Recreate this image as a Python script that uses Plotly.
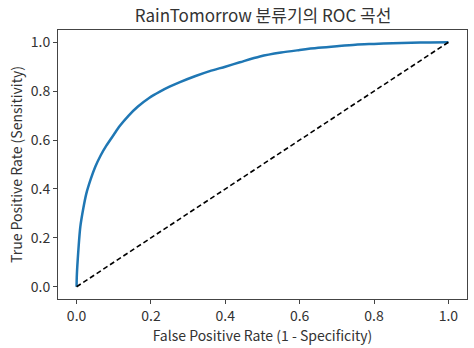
import plotly.graph_objects as go

fpr = [0, 0.0005, 0.003, 0.01, 0.018, 0.026, 0.038, 0.05, 0.065, 0.08, 0.1, 0.116,
       0.14, 0.165, 0.195, 0.224, 0.25, 0.278, 0.32, 0.358, 0.4, 0.439, 0.493, 0.55,
       0.6, 0.65, 0.7, 0.75, 0.8, 0.85, 0.9, 0.95, 1.0]
tpr = [0, 0.04, 0.11, 0.245, 0.32, 0.38, 0.44, 0.49, 0.538, 0.577, 0.622, 0.657,
       0.70, 0.737, 0.772, 0.798, 0.818, 0.837, 0.862, 0.882, 0.90, 0.918, 0.942, 0.958,
       0.968, 0.977, 0.984, 0.99, 0.993, 0.996, 0.998, 0.999, 1.0]
diag = [0, 1]
tick_vals = [0.0, 0.2, 0.4, 0.6, 0.8, 1.0]

title_text = "RainTomorrow 분류기의 ROC 곡선"
x_title = "False Positive Rate (1 - Specificity)"
y_title = "True Positive Rate (Sensitivity)"

FONT = "Noto Sans CJK KR"

fig = go.Figure()
fig.add_trace(go.Scatter(x=fpr, y=tpr, mode="lines",
                         line=dict(color="#1f77b4", width=2.5, shape="spline", smoothing=0.8),
                         showlegend=False, hoverinfo="skip"))
fig.add_trace(go.Scatter(x=diag, y=diag, mode="lines",
                         line=dict(color="black", width=1.6, dash="5px,3px"),
                         showlegend=False, hoverinfo="skip"))

axis_common = dict(
    range=[-0.05, 1.05], tickvals=tick_vals, tickformat=".1f",
    showgrid=False, zeroline=False, showline=True, mirror=True,
    linecolor="#444", linewidth=1, ticks="outside", ticklen=4,
    tickcolor="#444", tickfont=dict(family=FONT, size=14, color="#333"),
)

fig.update_layout(
    width=474, height=348,
    margin=dict(l=58, r=7, t=30, b=49),
    paper_bgcolor="white", plot_bgcolor="white",
    font=dict(family=FONT, color="#333"),
    title=dict(text=title_text, x=0.555, xanchor="center", y=0.955, yanchor="middle",
               font=dict(family=FONT, size=17, color="#333")),
    xaxis=dict(**axis_common, title=dict(text=x_title, standoff=2,
               font=dict(family=FONT, size=14, color="#333"))),
    yaxis=dict(**axis_common, title=dict(text=y_title, standoff=4,
               font=dict(family=FONT, size=14, color="#333"))),
)

fig.write_html("out.html")
